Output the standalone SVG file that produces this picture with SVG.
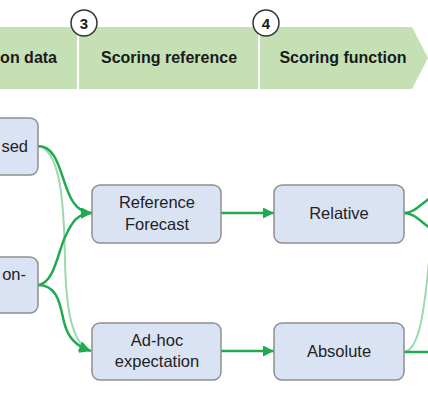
<svg xmlns="http://www.w3.org/2000/svg" width="428" height="400" viewBox="0 0 428 400">
<style>
.banner{fill:#c5e0b4}
.sep{stroke:#ffffff;stroke-width:2}
.step{fill:#ffffff;stroke:#333333;stroke-width:1.5}
.stepnum{font-family:"Liberation Sans",Arial,sans-serif;font-weight:bold;font-size:15px;fill:#1a1a1a;text-anchor:middle}
.head{font-family:"Liberation Sans",Arial,sans-serif;font-weight:bold;font-size:16px;fill:#1a1a1a;text-anchor:middle}
.box{fill:#dae3f3;stroke:#8f8f8f;stroke-width:1.5}
.lbl{font-family:"Liberation Sans",Arial,sans-serif;font-size:16.5px;fill:#222222;text-anchor:middle}
.dk{fill:none;stroke:#1faa50;stroke-width:2.5}
.lt{fill:none;stroke:#9bd9b0;stroke-width:2}
</style>
<defs>
<marker id="ah" viewBox="0 0 10 10" refX="10" refY="5" markerWidth="12" markerHeight="11" markerUnits="userSpaceOnUse" orient="auto">
<path d="M0,0 L10,5 L0,10 z" fill="#1faa50"/>
</marker>
</defs>
<g id="header">
<polygon class="banner" points="0,27 412,27 428,58 412,89 0,89"/>
<line class="sep" x1="78" y1="30" x2="78" y2="89"/>
<line class="sep" x1="259" y1="30" x2="259" y2="89"/>
<text class="head" x="57" y="63" style="text-anchor:end">on data</text>
<text class="head" x="169" y="63">Scoring reference</text>
<text class="head" x="343" y="63">Scoring function</text>
</g>
<g id="step3">
<circle class="step" cx="84" cy="23" r="13"/>
<text class="stepnum" x="84" y="28.5">3</text>
</g>
<g id="step4">
<circle class="step" cx="266" cy="23" r="13"/>
<text class="stepnum" x="266" y="28.5">4</text>
</g>
<g id="connectors">
<path class="lt" d="M38,146 C60,150 64,200 65,260 C66,310 72,343 90,351" marker-end="url(#ah)"/>
<path class="dk" d="M38,146 C68,146 58,213 92,213" marker-end="url(#ah)"/>
<path class="dk" d="M38,285 C55,283 58,250 66,235 C72,222 78,213 92,213" marker-end="url(#ah)"/>
<path class="dk" d="M38,285 C58,285 60,305 64,322 C68,338 76,346 91,351" marker-end="url(#ah)"/>
<path class="dk" d="M221,213 L274,213" marker-end="url(#ah)"/>
<path class="dk" d="M221,351 L274,351" marker-end="url(#ah)"/>
<path class="dk" d="M404,213 C414,213 420,205 430,198"/>
<path class="dk" d="M404,213 C414,213 420,221 430,228"/>
<path class="lt" d="M404,352 C418,350 424,320 430,250"/>
<path class="dk" d="M404,352 L430,352"/>
</g>
<g id="node-obs">
<rect class="box" x="-20" y="118" width="58" height="57" rx="8"/>
<text class="lbl" x="28" y="152" style="text-anchor:end">sed</text>
</g>
<g id="node-non">
<rect class="box" x="-20" y="257" width="58" height="56" rx="8"/>
<text class="lbl" x="26" y="280" style="text-anchor:end">on-</text>
</g>
<g id="node-ref">
<rect class="box" x="92" y="185" width="129" height="58" rx="8"/>
<text class="lbl" x="157" y="208">Reference</text>
<text class="lbl" x="157" y="230">Forecast</text>
</g>
<g id="node-adhoc">
<rect class="box" x="92" y="323" width="129" height="57" rx="8"/>
<text class="lbl" x="157" y="346">Ad-hoc</text>
<text class="lbl" x="157" y="367">expectation</text>
</g>
<g id="node-rel">
<rect class="box" x="274" y="185" width="130" height="58" rx="8"/>
<text class="lbl" x="339" y="219">Relative</text>
</g>
<g id="node-abs">
<rect class="box" x="274" y="323" width="130" height="57" rx="8"/>
<text class="lbl" x="339" y="357">Absolute</text>
</g>
</svg>
